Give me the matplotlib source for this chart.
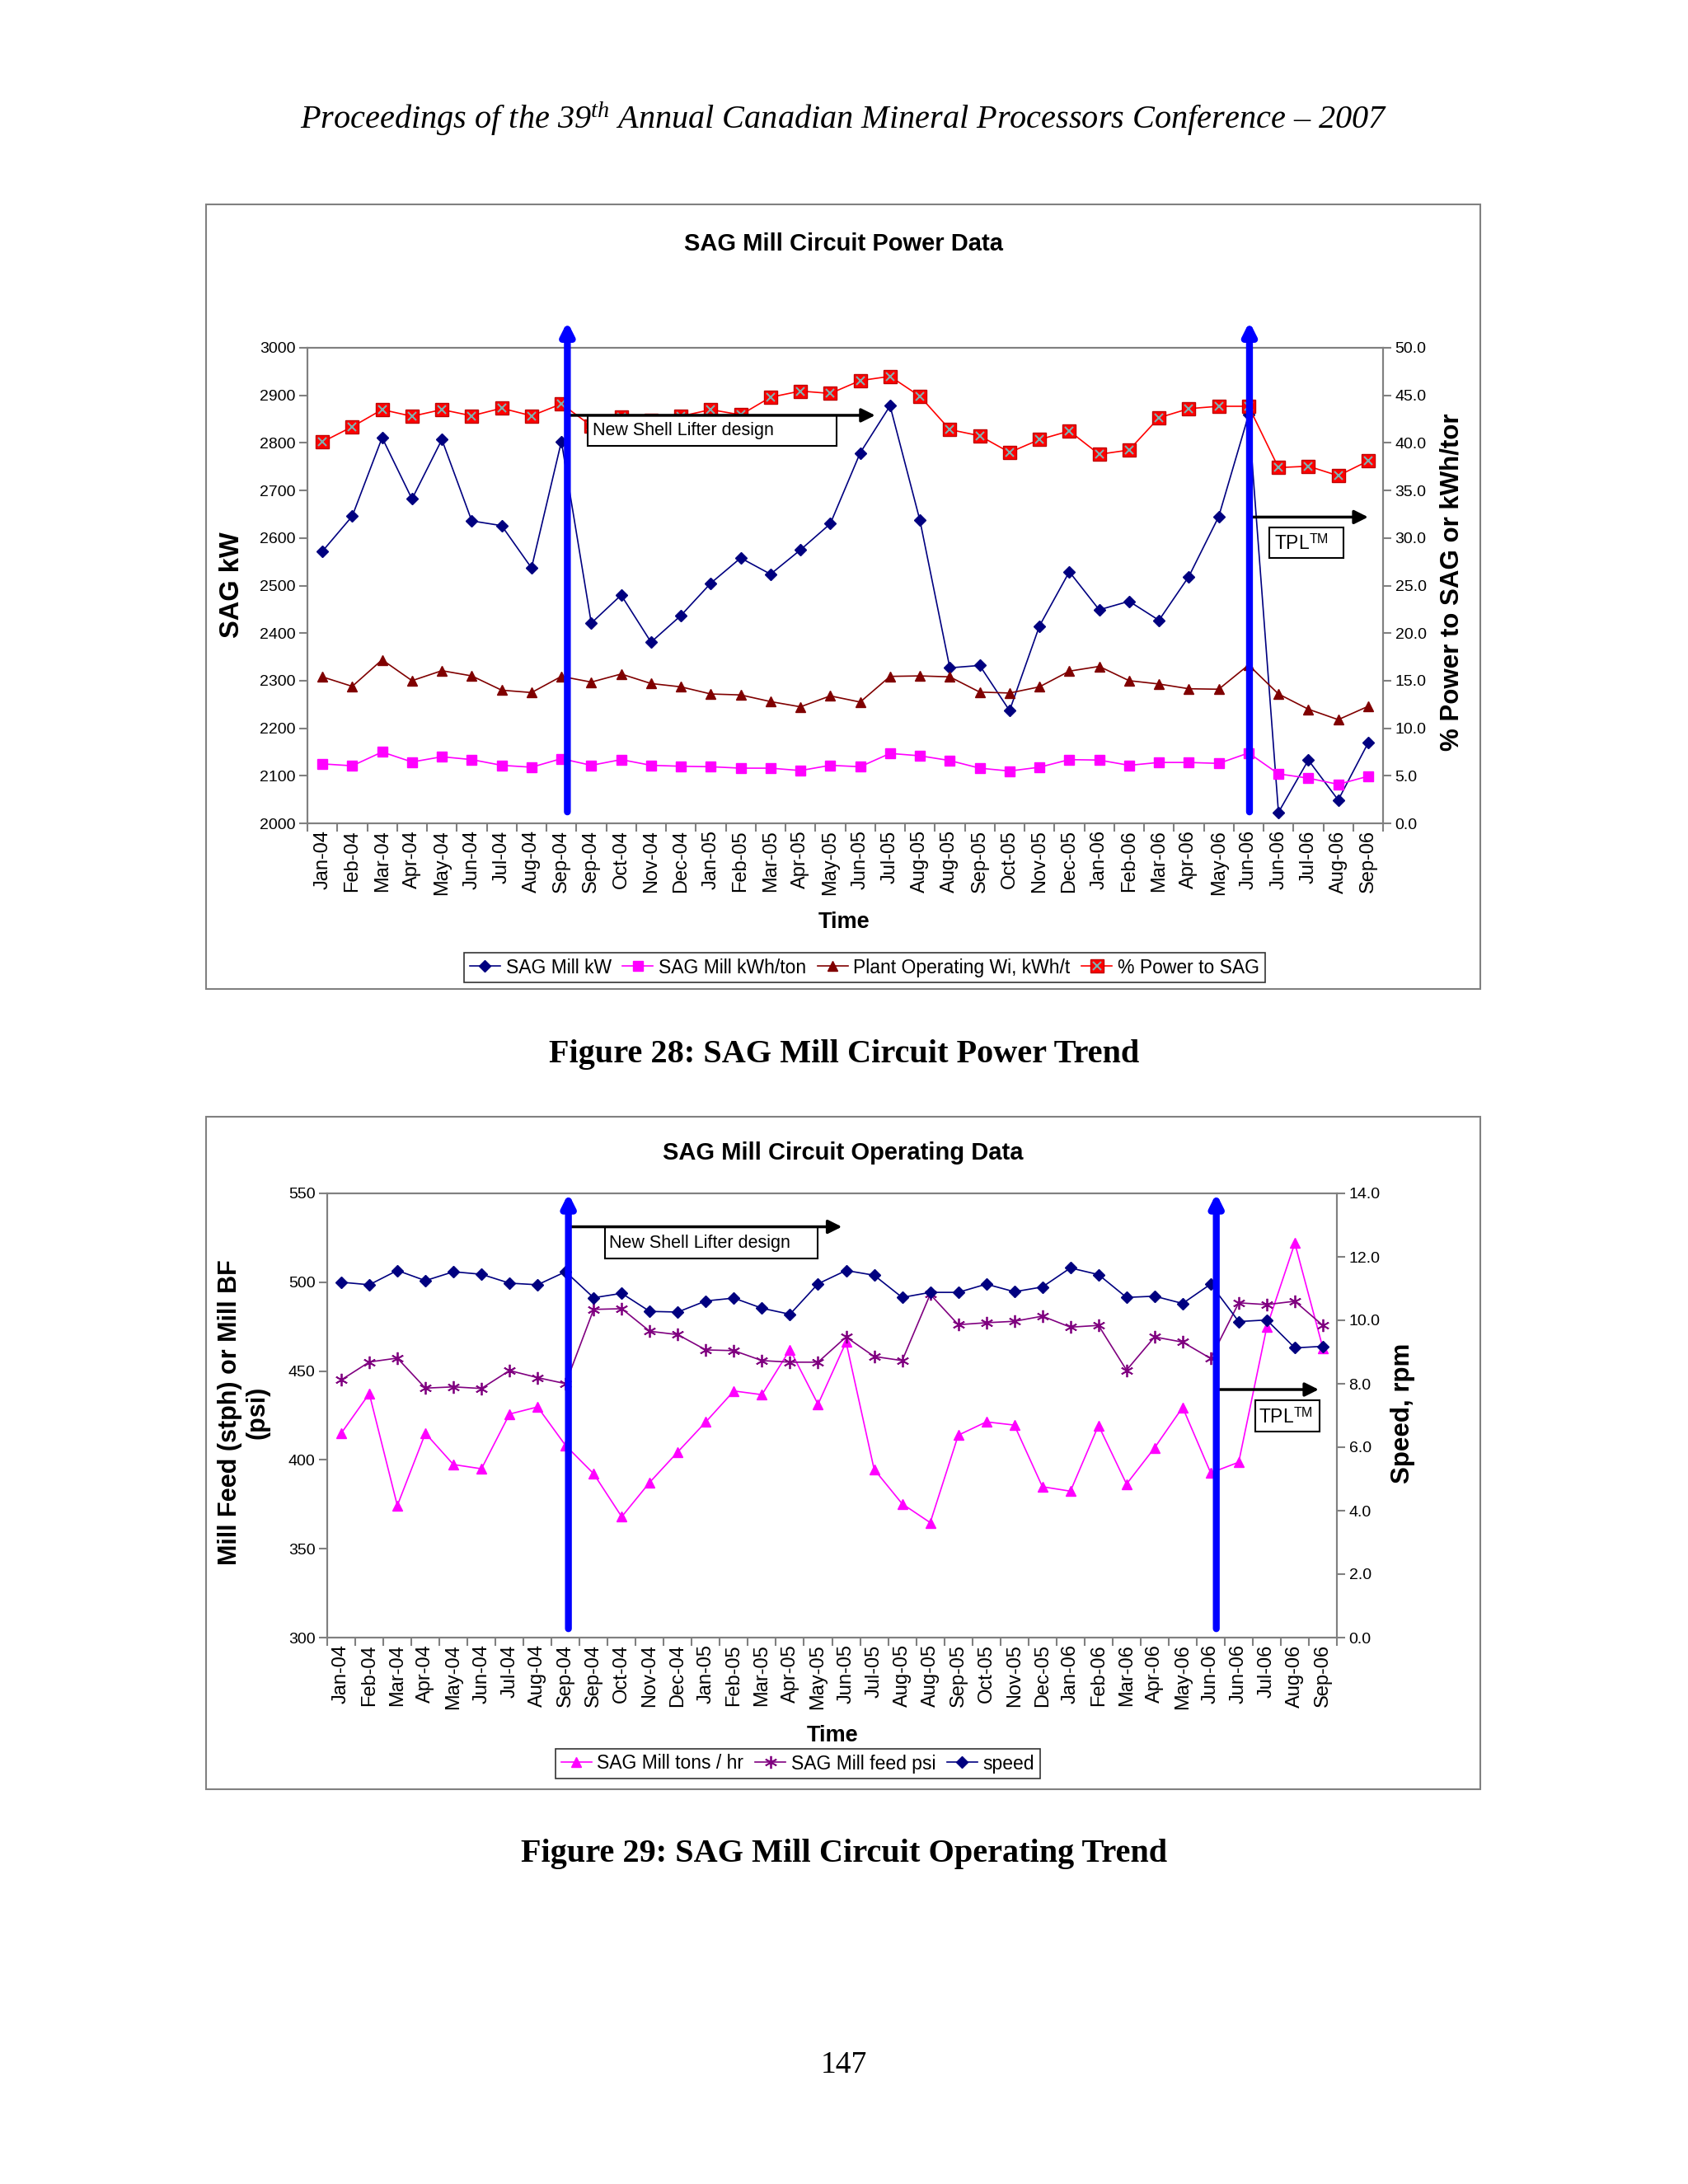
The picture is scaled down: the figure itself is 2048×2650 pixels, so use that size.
import matplotlib
matplotlib.use("Agg")
import matplotlib.pyplot as plt
from matplotlib.patches import Rectangle
from matplotlib.legend_handler import HandlerTuple

plt.rcParams["font.family"] = ["Liberation Sans", "DejaVu Sans"]
plt.rcParams["mathtext.fontset"] = "custom"
plt.rcParams["mathtext.rm"] = "Liberation Sans"
plt.rcParams["mathtext.it"] = "Liberation Serif:italic"

# categorias del eje x (las dos graficas usan las mismas)
meses = ["Jan-04", "Feb-04", "Mar-04", "Apr-04", "May-04", "Jun-04", "Jul-04", "Aug-04",
         "Sep-04", "Sep-04", "Oct-04", "Nov-04", "Dec-04", "Jan-05", "Feb-05", "Mar-05",
         "Apr-05", "May-05", "Jun-05", "Jul-05", "Aug-05", "Aug-05", "Sep-05", "Oct-05",
         "Nov-05", "Dec-05", "Jan-06", "Feb-06", "Mar-06", "Apr-06", "May-06", "Jun-06",
         "Jun-06", "Jul-06", "Aug-06", "Sep-06"]

# Figura 28 - datos de potencia
sag_kw = [2572, 2646, 2811, 2682, 2807, 2636, 2626, 2537, 2803, 2421, 2480, 2381,
          2437, 2505, 2558, 2524, 2575, 2630, 2779, 2878, 2637, 2327, 2332, 2237,
          2415, 2529, 2449, 2467, 2427, 2519, 2645, 2859, 2023, 2133, 2049, 2169]
sag_kwh_ton = [6.25, 6.05, 7.5, 6.45, 7.0, 6.7, 6.1, 5.9, 6.8, 6.1, 6.7, 6.1,
               6.0, 5.95, 5.8, 5.8, 5.55, 6.1, 5.95, 7.35, 7.1, 6.6, 5.8, 5.5,
               5.9, 6.7, 6.65, 6.1, 6.4, 6.4, 6.3, 7.4, 5.2, 4.75, 4.1, 4.95]
wi_planta = [15.4, 14.4, 17.2, 15.0, 16.05, 15.5, 14.0, 13.75, 15.45, 14.85, 15.7, 14.7,
             14.35, 13.6, 13.5, 12.8, 12.25, 13.4, 12.75, 15.45, 15.5, 15.4, 13.8, 13.7,
             14.35, 16.0, 16.5, 15.0, 14.65, 14.15, 14.1, 16.65, 13.6, 12.0, 10.9, 12.3]
pct_potencia = [40.1, 41.7, 43.5, 42.8, 43.5, 42.85, 43.65, 42.85, 44.1, 41.8, 42.7, 42.4,
                42.8, 43.5, 42.95, 44.8, 45.45, 45.2, 46.55, 47.0, 44.9, 41.4, 40.75, 39.0,
                40.35, 41.25, 38.8, 39.25, 42.65, 43.6, 43.85, 43.85, 37.4, 37.55, 36.55, 38.1]

# Figura 29 - datos de operacion
toneladas_hr = [415, 437.3, 374.3, 415, 397.4, 395.0, 425.8, 429.8, 408.1, 392.2, 368, 387.4,
                404.5, 421.4, 438.8, 436.7, 462.1, 431.3, 466.3, 394.7, 375.3, 364.7, 413.9, 421.4,
                419.6, 384.9, 382.4, 419.4, 386.4, 406.8, 429.6, 392.7, 398.7, 474.7, 522.0, 463.0]
presion_psi = [445, 455.1, 457.3, 440.4, 441.1, 440.2, 450.3, 446.3, 442.9, 484.7, 485.1, 472.4,
               470.5, 461.9, 461.5, 455.9, 455.0, 455.0, 469.2, 458.2, 455.9, 493.2, 476.1, 477.2,
               478.0, 480.9, 474.7, 475.7, 450.5, 469.2, 466.3, 457.1, 488.4, 487.4, 489.3, 475.7]
velocidad = [11.2, 11.12, 11.57, 11.25, 11.53, 11.45, 11.17, 11.12, 11.53, 10.71, 10.85, 10.28,
             10.26, 10.61, 10.70, 10.38, 10.19, 11.15, 11.57, 11.42, 10.72, 10.88, 10.88, 11.14,
             10.9, 11.05, 11.65, 11.44, 10.72, 10.76, 10.53, 11.14, 9.96, 10.01, 9.13, 9.18]

x = list(range(len(meses)))
W, H = 2048, 2650
fig = plt.figure(figsize=(W / 100, H / 100), dpi=100)
fig.patch.set_facecolor("white")


def caja_px(x0, y0, x1, y1):
    return [x0 / W, 1 - y1 / H, (x1 - x0) / W, (y1 - y0) / H]


def estilo_ejes(ax, ax2):
    for a in (ax, ax2):
        for s in a.spines.values():
            s.set_color("#808080")
            s.set_linewidth(1.5)
        a.tick_params(colors="#808080", labelcolor="black", length=7, width=1.5, labelsize=14)
    ax.set_xlim(-0.5, len(meses) - 0.5)
    ax.set_xticks([i - 0.5 for i in range(len(meses) + 1)])
    ax.set_xticklabels([])
    ax.set_xticks(x, minor=True)
    ax.set_xticklabels(meses, minor=True, rotation=90, fontsize=17)
    ax.tick_params(axis="x", which="minor", length=0, pad=6)


def flecha(a, x0, y0, x1, y1, t, color, lw, ms):
    a.annotate("", xy=(x1, y1), xytext=(x0, y0), xycoords=t, textcoords=t,
               arrowprops=dict(arrowstyle="-|>", color=color, lw=lw, mutation_scale=ms,
                               shrinkA=0, shrinkB=0),
               zorder=8, annotation_clip=False)


# marcos de las figuras
for (x0, y0, x1, y1) in [(250, 248, 1796, 1200), (250, 1355, 1796, 2171)]:
    fig.patches.append(Rectangle((x0 / W, 1 - y1 / H), (x1 - x0) / W, (y1 - y0) / H,
                                 transform=fig.transFigure, fill=False, ec="#808080", lw=1.5))

fig.text(0.5, 1 - 144 / H, "Proceedings of the 39$^{th}$ Annual Canadian Mineral Processors Conference \u2013 2007",
         ha="center", va="center", fontsize=29, family="Liberation Serif", style="italic")

# ---------------- Figura 28 ----------------
ax = fig.add_axes(caja_px(373, 422, 1678, 999))
ax2 = ax.twinx()
ax.set_ylim(2000, 3000)
ax.set_yticks(range(2000, 3001, 100))
ax2.set_ylim(0, 50)
ax2.set_yticks([i * 5 for i in range(11)])
ax2.set_yticklabels(["%.1f" % (i * 5) for i in range(11)])
estilo_ejes(ax, ax2)

l1, = ax.plot(x, sag_kw, color="#000080", marker="D", ms=7, lw=1.2)
l2, = ax2.plot(x, sag_kwh_ton, color="#FF00FF", marker="s", ms=8, lw=1.2)
l3, = ax2.plot(x, wi_planta, color="#800000", marker="^", ms=9, lw=1.2)
l4, = ax2.plot(x, pct_potencia, color="#FF0000", marker="s", ms=11, mec="#C00000", lw=1.2)
l4x, = ax2.plot(x, pct_potencia, ls="none", marker="x", ms=7, mew=1.5, color="#80B0B0")

t = ax.transData
ax2.add_patch(Rectangle((8.87, 2793), 17.2 - 8.87, 2858 - 2793, transform=t,
                        fc="white", ec="black", lw=1.5, zorder=5))
ax2.text(9.05, 2826, "New Shell Lifter design", transform=t, fontsize=15.5, va="center", zorder=6)
flecha(ax2, 8.2, 2858, 18.5, 2858, t, "black", 2.5, 25)
ax2.add_patch(Rectangle((31.7, 2558), 34.17 - 31.7, 2622 - 2558, transform=t,
                        fc="white", ec="black", lw=1.5, zorder=5))
ax2.text(31.85, 2588, "TPL$^{\\mathrm{TM}}$", transform=t, fontsize=16.5, va="center", zorder=6)
flecha(ax2, 31.05, 2644, 35.0, 2644, t, "black", 2.5, 25)
for xa in (8.2, 31.03):
    flecha(ax2, xa, 2024, xa, 3055, t, "#0000FF", 6, 22)

fig.text(1023 / W, 1 - 296 / H, "SAG Mill Circuit Power Data", ha="center", va="center",
         fontsize=21, fontweight="bold")
fig.text(282 / W, 1 - 710 / H, "SAG kW", rotation=90, ha="center", va="center",
         fontsize=23.5, fontweight="bold")
fig.text(1761 / W, 1 - 706 / H, "% Power to SAG or kWh/tor", rotation=90, ha="center",
         va="center", fontsize=22.5, fontweight="bold")
fig.text(1024 / W, 1 - 1119 / H, "Time", ha="center", va="center", fontsize=19.5, fontweight="bold")

leg = fig.legend([l1, l2, l3, (l4, l4x)],
                 ["SAG Mill kW", "SAG Mill kWh/ton", "Plant Operating Wi, kWh/t", "% Power to SAG"],
                 handler_map={tuple: HandlerTuple(ndivide=1, pad=0)},
                 loc="center", bbox_to_anchor=(1049 / W, 1 - 1174 / H), ncol=4, fontsize=16.5,
                 frameon=True, fancybox=False, edgecolor="black", handlelength=1.6,
                 handletextpad=0.3, columnspacing=0.6, borderpad=0.3)
leg.get_frame().set_linewidth(1.2)

fig.text(0.5, 1 - 1279 / H, "Figure 28: SAG Mill Circuit Power Trend", ha="center", va="center",
         fontsize=29, fontweight="bold", family="Liberation Serif")

# ---------------- Figura 29 ----------------
bx = fig.add_axes(caja_px(397, 1448, 1622, 1987))
bx2 = bx.twinx()
bx.set_ylim(300, 550)
bx.set_yticks(range(300, 551, 50))
bx2.set_ylim(0, 14)
bx2.set_yticks([i * 2 for i in range(8)])
bx2.set_yticklabels(["%.1f" % (i * 2) for i in range(8)])
estilo_ejes(bx, bx2)

m1, = bx.plot(x, toneladas_hr, color="#FF00FF", marker="^", ms=9, lw=1.2)
m2, = bx.plot(x, presion_psi, color="#800080", marker=(6, 2, 0), ms=11, mew=1.3, lw=1.2)
m3, = bx2.plot(x, velocidad, color="#000080", marker="D", ms=7, lw=1.2)

t = bx.transData
bx2.add_patch(Rectangle((9.39, 513.5), 17.0 - 9.39, 530.8 - 513.5, transform=t,
                        fc="white", ec="black", lw=1.5, zorder=5))
bx2.text(9.55, 522, "New Shell Lifter design", transform=t, fontsize=15.5, va="center", zorder=6)
flecha(bx2, 8.06, 531.2, 17.85, 531.2, t, "black", 2.5, 25)
bx2.add_patch(Rectangle((32.58, 416.1), 34.87 - 32.58, 433.4 - 416.1, transform=t,
                        fc="white", ec="black", lw=1.5, zorder=5))
bx2.text(32.72, 424, "TPL$^{\\mathrm{TM}}$", transform=t, fontsize=16.5, va="center", zorder=6)
flecha(bx2, 31.18, 439.6, 34.85, 439.6, t, "black", 2.5, 25)
for xa in (8.1, 31.2):
    flecha(bx2, xa, 305, xa, 550, t, "#0000FF", 6, 22)

fig.text(1023 / W, 1 - 1399 / H, "SAG Mill Circuit Operating Data", ha="center", va="center",
         fontsize=21, fontweight="bold")
fig.text(296 / W, 1 - 1714 / H, "Mill Feed (stph) or Mill BF\n(psi)", rotation=90, ha="center",
         va="center", multialignment="center", fontsize=22, fontweight="bold", linespacing=1.15)
fig.text(1702 / W, 1 - 1715 / H, "Speed, rpm", rotation=90, ha="center", va="center",
         fontsize=22.5, fontweight="bold")
fig.text(1010 / W, 1 - 2106 / H, "Time", ha="center", va="center", fontsize=19.5, fontweight="bold")

leg2 = fig.legend([m1, m2, m3], ["SAG Mill tons / hr", "SAG Mill feed psi", "speed"],
                  loc="center", bbox_to_anchor=(968 / W, 1 - 2140 / H), ncol=3, fontsize=16.5,
                  frameon=True, fancybox=False, edgecolor="black", handlelength=1.6,
                  handletextpad=0.3, columnspacing=0.6, borderpad=0.3)
leg2.get_frame().set_linewidth(1.2)

fig.text(0.5, 1 - 2249 / H, "Figure 29: SAG Mill Circuit Operating Trend", ha="center", va="center",
         fontsize=29, fontweight="bold", family="Liberation Serif")
fig.text(0.5, 1 - 2506 / H, "147", ha="center", va="center", fontsize=27, family="Liberation Serif")

fig.savefig("out.png", dpi=100)
